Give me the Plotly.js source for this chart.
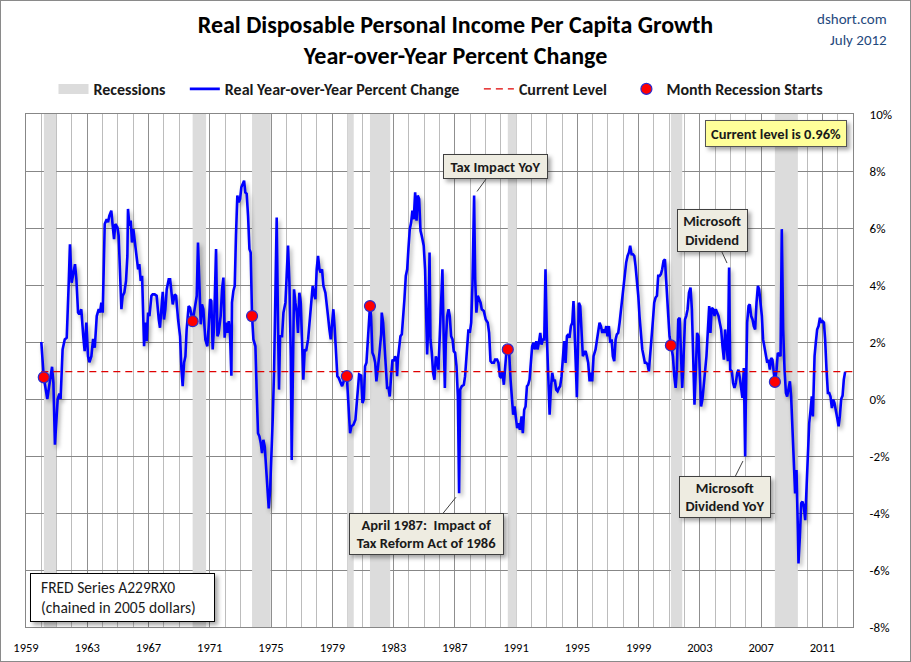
<!DOCTYPE html>
<html><head><meta charset="utf-8">
<script src="https://cdn.plot.ly/plotly-3.0.1.min.js"></script>
<style>
body{margin:0;background:#fff}
#wrap{position:relative;width:911px;height:662px}
#chart{width:911px;height:662px}
#frame{position:absolute;left:0;top:0;width:909px;height:660px;border:1px solid #8a8a8a;pointer-events:none}
#chart .scatterlayer .trace:nth-of-type(3) .js-line{filter:drop-shadow(2px 3px 2px rgba(0,0,0,0.35))}
#chart .annotation .bg{filter:drop-shadow(3px 3px 2px rgba(0,0,0,0.35))}
</style></head>
<body>
<div id="wrap"><div id="chart"></div><div id="frame"></div></div>
<script>
// ---- data ----
const dates = [
1960.00,1960.10,1960.16,1960.39,1960.52,1960.70,1960.79,1960.89,1961.07,1961.18,
1961.26,1961.39,1961.53,1961.66,1961.79,1961.87,1961.98,1962.09,1962.20,1962.29,
1962.40,1962.48,1962.61,1962.74,1962.83,1962.94,1963.05,1963.14,1963.27,1963.38,
1963.49,1963.62,1963.75,1963.83,1963.92,1964.01,1964.14,1964.27,1964.36,1964.44,
1964.57,1964.66,1964.75,1964.83,1964.97,1965.05,1965.14,1965.23,1965.31,1965.42,
1965.53,1965.62,1965.66,1965.75,1965.84,1965.92,1966.01,1966.10,1966.23,1966.32,
1966.40,1966.49,1966.58,1966.66,1966.71,1966.79,1966.88,1966.97,1967.06,1967.19,
1967.27,1967.40,1967.53,1967.67,1967.75,1967.84,1967.93,1968.01,1968.10,1968.19,
1968.32,1968.41,1968.49,1968.58,1968.71,1968.80,1968.93,1969.06,1969.15,1969.23,
1969.32,1969.41,1969.49,1969.62,1969.71,1969.88,1970.01,1970.15,1970.23,1970.32,
1970.41,1970.49,1970.58,1970.71,1970.84,1970.93,1971.02,1971.10,1971.19,1971.28,
1971.41,1971.50,1971.58,1971.71,1971.80,1971.89,1971.97,1972.06,1972.15,1972.24,
1972.32,1972.41,1972.45,1972.54,1972.63,1972.71,1972.80,1972.89,1972.98,1973.06,
1973.15,1973.24,1973.32,1973.41,1973.50,1973.59,1973.67,1973.76,1973.85,1973.98,
1974.06,1974.15,1974.24,1974.33,1974.41,1974.50,1974.59,1974.67,1974.76,1974.85,
1974.94,1975.02,1975.11,1975.20,1975.28,1975.37,1975.46,1975.52,1975.59,1975.72,
1975.81,1975.94,1976.02,1976.11,1976.20,1976.29,1976.35,1976.42,1976.50,1976.59,
1976.68,1976.76,1976.85,1976.94,1977.03,1977.11,1977.20,1977.29,1977.42,1977.50,
1977.59,1977.72,1977.81,1977.90,1977.98,1978.07,1978.16,1978.24,1978.33,1978.42,
1978.55,1978.64,1978.72,1978.81,1978.90,1978.99,1979.07,1979.16,1979.25,1979.33,
1979.42,1979.51,1979.64,1979.73,1979.81,1979.95,1980.07,1980.16,1980.25,1980.38,
1980.51,1980.60,1980.75,1980.88,1980.97,1981.06,1981.14,1981.23,1981.32,1981.46,
1981.53,1981.62,1981.71,1981.80,1981.88,1981.97,1982.06,1982.19,1982.23,1982.32,
1982.41,1982.49,1982.58,1982.67,1982.75,1982.84,1982.93,1983.02,1983.10,1983.19,
1983.23,1983.28,1983.36,1983.45,1983.54,1983.63,1983.71,1983.80,1983.89,1983.97,
1984.06,1984.15,1984.23,1984.32,1984.41,1984.50,1984.58,1984.67,1984.76,1984.84,
1984.97,1985.06,1985.15,1985.19,1985.28,1985.35,1985.41,1985.50,1985.58,1985.67,
1985.76,1985.85,1985.93,1986.02,1986.11,1986.19,1986.28,1986.35,1986.41,1986.50,
1986.59,1986.67,1986.76,1986.85,1986.93,1987.02,1987.11,1987.20,1987.28,1987.35,
1987.46,1987.59,1987.67,1987.76,1987.89,1987.98,1988.07,1988.15,1988.26,1988.33,
1988.41,1988.50,1988.59,1988.68,1988.76,1988.89,1989.02,1989.15,1989.24,1989.33,
1989.42,1989.55,1989.63,1989.76,1989.85,1989.94,1990.03,1990.11,1990.20,1990.29,
1990.38,1990.46,1990.55,1990.64,1990.72,1990.81,1990.90,1990.98,1991.07,1991.16,
1991.25,1991.36,1991.44,1991.53,1991.62,1991.71,1991.79,1991.88,1991.97,1992.05,
1992.14,1992.23,1992.32,1992.40,1992.49,1992.58,1992.66,1992.75,1992.84,1992.92,
1993.01,1993.10,1993.19,1993.27,1993.36,1993.45,1993.53,1993.62,1993.71,1993.80,
1993.88,1993.97,1994.06,1994.14,1994.23,1994.32,1994.41,1994.49,1994.58,1994.67,
1994.75,1994.84,1994.91,1994.97,1995.04,1995.10,1995.19,1995.28,1995.36,1995.45,
1995.54,1995.62,1995.71,1995.80,1995.89,1995.97,1996.06,1996.19,1996.28,1996.36,
1996.45,1996.54,1996.63,1996.71,1996.80,1996.89,1996.97,1997.06,1997.15,1997.24,
1997.32,1997.41,1997.50,1997.58,1997.67,1997.76,1997.85,1997.93,1998.02,1998.11,
1998.19,1998.28,1998.37,1998.45,1998.54,1998.63,1998.72,1998.80,1998.89,1998.98,
1999.06,1999.15,1999.24,1999.33,1999.41,1999.50,1999.59,1999.67,1999.76,1999.85,
1999.94,2000.02,2000.11,2000.20,2000.28,2000.37,2000.46,2000.54,2000.63,2000.72,
2000.76,2000.85,2000.94,2001.02,2001.11,2001.24,2001.33,2001.42,2001.50,2001.59,
2001.68,2001.77,2001.85,2001.94,2002.03,2002.11,2002.20,2002.29,2002.39,2002.48,
2002.56,2002.65,2002.74,2002.82,2002.91,2003.00,2003.08,2003.17,2003.26,2003.35,
2003.43,2003.52,2003.61,2003.69,2003.78,2003.87,2003.96,2004.04,2004.13,2004.22,
2004.30,2004.39,2004.48,2004.57,2004.65,2004.74,2004.83,2004.91,2004.98,2005.09,
2005.17,2005.26,2005.35,2005.44,2005.52,2005.61,2005.70,2005.78,2005.87,2005.92,
2005.96,2006.00,2006.09,2006.18,2006.26,2006.35,2006.44,2006.52,2006.61,2006.70,
2006.79,2006.87,2006.96,2007.05,2007.13,2007.22,2007.31,2007.40,2007.48,2007.57,
2007.66,2007.74,2007.83,2007.90,2008.01,2008.09,2008.18,2008.27,2008.35,2008.44,
2008.53,2008.62,2008.70,2008.79,2008.88,2008.96,2009.05,2009.14,2009.22,2009.31,
2009.40,2009.44,2009.53,2009.62,2009.70,2009.79,2009.88,2009.97,2010.05,2010.14,
2010.23,2010.31,2010.38,2010.44,2010.49,2010.57,2010.66,2010.75,2010.84,2010.92,
2011.01,2011.10,2011.18,2011.27,2011.36,2011.45,2011.53,2011.62,2011.71,2011.79,
2011.88,2011.97,2012.06,2012.14,2012.23,2012.32,2012.40,2012.49
];
const yoy = [
2.00,1.10,0.76,0.00,0.56,1.13,0.56,-1.60,0.00,0.19,
0.00,1.74,2.09,2.15,4.08,5.43,4.08,4.44,4.73,4.20,
3.03,2.97,3.15,2.20,1.68,2.68,1.50,1.29,1.50,2.11,
1.80,2.91,3.15,3.03,3.38,3.03,6.14,6.31,6.20,6.43,
6.61,6.08,5.61,6.14,6.02,5.73,4.32,3.15,3.62,3.73,
4.14,5.02,6.67,6.08,6.26,5.49,5.96,5.49,5.02,4.55,
4.73,4.14,4.32,2.91,1.85,2.68,2.03,3.03,2.91,3.62,
3.67,3.67,3.62,2.79,2.50,3.15,3.76,2.79,3.15,3.85,
4.20,4.20,3.67,3.32,3.67,3.62,2.79,2.20,1.03,0.45,
1.27,1.50,2.44,3.26,3.20,2.73,3.15,3.62,5.49,3.62,
2.62,3.32,3.15,2.09,1.85,2.56,3.50,3.44,1.74,2.56,
5.26,2.20,2.32,2.91,3.85,4.26,2.15,2.68,2.32,2.73,
2.32,0.82,3.38,3.79,3.97,5.73,7.14,6.90,7.02,7.43,
7.55,7.66,7.25,7.20,6.43,5.26,5.14,2.91,2.09,1.85,
0.33,-1.20,-1.31,-1.55,-1.90,-1.43,-1.67,-2.25,-2.96,-3.84,
-3.19,-2.25,-0.73,1.03,3.38,6.37,2.44,0.33,2.20,2.20,
3.03,3.38,4.32,5.38,4.08,1.50,-2.14,1.03,3.85,3.38,
3.03,2.32,3.73,3.38,1.74,0.68,1.74,1.68,2.09,2.68,
3.03,3.97,3.67,3.50,4.55,5.02,4.55,4.44,4.55,3.97,
3.73,3.38,2.91,2.44,2.09,2.68,3.15,2.44,1.27,0.80,
0.74,0.62,0.45,0.59,0.86,0.80,-0.14,-1.20,-0.96,-0.90,
-0.73,0.00,0.86,0.82,-0.14,0.00,1.15,1.27,1.97,3.26,
2.91,1.62,1.50,1.27,0.62,1.03,1.50,2.27,3.03,2.68,
1.74,1.03,0.39,0.39,0.09,0.80,1.38,1.33,1.50,1.38,
0.80,1.38,1.74,2.20,2.27,2.79,3.50,4.32,4.55,5.26,
5.96,6.20,6.61,6.31,7.25,6.26,7.14,7.02,5.90,5.73,
5.38,4.55,2.79,1.56,2.79,5.14,2.09,1.62,0.92,0.68,
1.50,1.33,1.03,2.20,3.62,4.55,1.97,0.39,1.97,2.91,
3.15,2.91,2.20,2.09,1.68,1.62,1.15,0.09,-3.31,0.33,
0.45,0.50,0.80,1.50,2.44,2.32,2.68,3.97,7.14,4.20,
3.03,3.62,3.50,3.38,3.15,3.09,2.79,2.68,2.32,1.33,
1.27,1.27,1.38,1.38,1.27,0.80,0.74,0.97,0.50,1.27,
1.74,1.74,1.62,0.68,0.09,-0.55,-0.26,-0.61,-1.02,-0.85,
-1.08,-0.61,-1.20,-0.38,-0.26,0.45,0.50,0.68,1.38,1.85,
1.97,1.74,2.03,1.74,1.97,2.32,1.91,2.09,2.09,4.55,
2.20,0.56,-0.55,0.33,0.92,0.62,0.68,0.33,0.27,0.39,
0.45,0.80,1.33,2.03,1.27,2.20,2.27,2.15,2.56,2.68,
3.44,2.32,1.03,0.06,2.79,3.38,3.26,2.20,1.50,1.62,
1.68,1.50,1.27,0.62,0.92,0.62,1.50,1.74,2.03,2.32,
2.68,2.56,2.32,2.44,2.32,2.56,2.20,2.56,1.97,2.09,
1.50,1.33,2.09,2.27,2.32,2.68,3.15,3.62,4.08,4.55,
4.79,5.02,5.14,5.38,5.08,5.08,5.02,4.67,4.20,3.62,
2.91,2.32,1.74,1.50,1.27,1.27,1.21,0.97,1.50,2.20,
2.79,3.38,3.56,3.62,4.32,4.32,4.38,4.55,4.85,4.90,
4.44,3.62,2.91,2.20,1.88,1.50,0.80,0.39,1.03,2.79,
2.85,1.50,0.39,1.50,2.79,2.91,3.15,3.73,3.91,3.15,
1.03,-0.20,1.03,2.32,2.20,1.03,-0.26,0.00,0.68,1.03,
1.50,2.44,3.26,2.32,3.20,3.15,2.91,3.15,3.03,2.91,
2.68,2.44,1.85,1.38,2.44,1.97,1.33,4.61,1.03,0.97,
0.56,0.39,0.56,0.92,1.03,0.74,0.33,0.04,1.09,-0.14,
-2.02,-0.14,2.68,3.26,3.32,2.91,2.79,2.56,2.44,3.38,
3.97,3.85,3.38,2.91,2.09,1.85,1.56,1.27,1.38,1.03,
1.44,1.38,0.92,0.60,1.03,1.62,1.56,1.50,5.96,2.44,
1.03,0.21,0.09,0.33,0.62,0.09,-0.85,-2.25,-3.31,-2.49,
-4.60,-5.77,-4.84,-3.66,-3.60,-3.78,-4.25,-3.08,-1.90,-0.85,
-0.38,0.09,-0.61,0.56,1.50,1.97,2.44,2.56,2.85,2.68,
2.73,2.68,2.09,1.03,0.21,0.21,0.09,-0.32,-0.02,-0.14,
-0.49,-0.67,-0.96,-0.61,0.00,0.12,0.68,0.96
];
const recStart = [1960.17, 1969.88, 1973.76, 1979.98, 1981.46, 1990.46, 2001.11, 2007.90];
const recEnd   = [1960.97, 1970.76, 1974.98, 1980.40, 1982.78, 1991.05, 2001.85, 2009.40];
const recDotDates  = [1960.16, 1969.88, 1973.76, 1979.95, 1981.46, 1990.46, 2001.11, 2007.90];
const recDotValues = [0.76, 2.73, 2.91, 0.80, 3.26, 1.74, 1.88, 0.60];
const xTickVals = [1959,1963,1967,1971,1975,1979,1983,1987,1991,1995,1999,2003,2007,2011];
const yTickVals = [-8,-6,-4,-2,0,2,4,6,8,10];
const xRange = [1959, 2013];

// ---- helpers ----
const FONT = "Carlito, 'Liberation Sans Narrow', 'Arial Narrow', 'DejaVu Sans Condensed', sans-serif";
const L = 26, R = 853, T = 114, B = 627;
const pxX = x => (x - L) / (R - L);
const pxY = y => (B - y) / (B - T);
function extreme(from, to, kind) {
  let best = -1;
  for (let i = 0; i < dates.length; i++) {
    if (dates[i] < from || dates[i] > to) continue;
    if (best < 0 || (kind === 'max' ? yoy[i] > yoy[best] : yoy[i] < yoy[best])) best = i;
  }
  return best;
}
const current = yoy[yoy.length - 1];
const yLo = yTickVals[0], yHi = yTickVals[yTickVals.length - 1];

const rx = [], ry = [];
recStart.forEach((s, i) => {
  rx.push(s, s, recEnd[i], recEnd[i], s, null);
  ry.push(yLo, yHi, yHi, yLo, yLo, null);
});

const traces = [
  {x: rx, y: ry, type: 'scatter', mode: 'lines', fill: 'toself', fillcolor: '#dcdcdc',
   line: {width: 0, color: '#dcdcdc'}, name: 'Recessions', showlegend: false, hoverinfo: 'skip'},
  {x: [null], y: [null], type: 'scatter', mode: 'lines', line: {width: 12, color: '#dcdcdc'},
   name: 'Recessions&nbsp;&nbsp;&nbsp;&nbsp;'},
  {x: dates, y: yoy, type: 'scatter', mode: 'lines', line: {color: '#0000ff', width: 2.6},
   name: 'Real Year-over-Year Percent Change&nbsp;&nbsp;&nbsp;&nbsp;'},
  {x: [dates[0], xRange[1]], y: [current, current], type: 'scatter', mode: 'lines',
   line: {color: '#e00000', width: 1.3, dash: '7px,5px'}, name: 'Current Level&nbsp;&nbsp;&nbsp;&nbsp;'},
  {x: recDotDates, y: recDotValues, type: 'scatter', mode: 'markers',
   marker: {color: '#ff0000', size: 11, line: {color: '#2b2bd0', width: 1.2}},
   name: 'Month Recession Starts'}
];

const calloutFont = {family: FONT, size: 14.5, color: '#1a1a1a', weight: 'bold'};
const iTax = extreme(1986, 1990, 'max');
const iApr = extreme(1986, 1990, 'min');
const iMsD = extreme(2004, 2005.5, 'max');
const iMsY = extreme(2005, 2007, 'min');

function callout(i, text, ax, ay, w, h) {
  return {x: dates[i], y: yoy[i], xref: 'x', yref: 'y', text: text, showarrow: true,
    arrowhead: 0, arrowwidth: 1, arrowcolor: '#404040', standoff: 5, ax: ax, ay: ay,
    bgcolor: '#eeece1', bordercolor: '#404040', borderwidth: 1, borderpad: 3,
    width: w, height: h, font: calloutFont, align: 'center'};
}

const annotations = [
  {xref: 'paper', yref: 'paper', x: pxX(889), y: pxY(19), xanchor: 'right', yanchor: 'middle',
   text: 'dshort.com', showarrow: false, font: {family: FONT, size: 15, color: '#1f497d'}},
  {xref: 'paper', yref: 'paper', x: pxX(889), y: pxY(40), xanchor: 'right', yanchor: 'middle',
   text: 'July 2012', showarrow: false, font: {family: FONT, size: 15, color: '#1f497d'}},
  {xref: 'paper', yref: 'paper', x: pxX(776), y: pxY(133.5), xanchor: 'center', yanchor: 'middle',
   text: 'Current level is ' + current.toFixed(2) + '%', showarrow: false,
   bgcolor: '#ffff99', bordercolor: '#555555', borderwidth: 1, borderpad: 3, width: 134, height: 19,
   font: calloutFont},
  {xref: 'paper', yref: 'paper', x: pxX(122.5), y: pxY(597.5), xanchor: 'center', yanchor: 'middle',
   text: '&nbsp;&nbsp;FRED Series A229RX0<br>&nbsp;&nbsp;(chained in 2005 dollars)', showarrow: false, align: 'left',
   bgcolor: '#ffffff', bordercolor: '#000000', borderwidth: 1, borderpad: 3, width: 177, height: 41,
   font: {family: FONT, size: 15.5, color: '#1a1a1a'}},
  callout(iTax, 'Tax Impact YoY', 21, -29, 97, 17),
  callout(iApr, 'April 1987:  Impact of<br>Tax Reform Act of 1986', -33, 41, 147, 34),
  callout(iMsD, 'Microsoft<br>Dividend', -17, -37, 63, 35),
  callout(iMsY, 'Microsoft<br>Dividend YoY', -20, 40, 84, 34)
];

const layout = {
  width: 911, height: 662,
  margin: {l: L, r: 911 - R, t: T, b: 662 - B, pad: 0},
  paper_bgcolor: '#ffffff', plot_bgcolor: '#ffffff',
  font: {family: FONT, size: 13, color: '#000'},
  title: {text: 'Real Disposable Personal Income Per Capita Growth<br>Year-over-Year Percent Change',
    font: {family: FONT, size: 24, color: '#000', weight: 'bold'},
    x: 0.5, xref: 'container', xanchor: 'center', y: 1 - 33 / 662, yref: 'container', yanchor: 'middle'},
  showlegend: true,
  legend: {orientation: 'h', x: pxX(441), xanchor: 'center', y: pxY(89), yanchor: 'middle',
    itemwidth: 30, traceorder: 'normal',
    font: {family: FONT, size: 16, color: '#1a1a1a', weight: 'bold'}, bgcolor: 'rgba(0,0,0,0)'},
  xaxis: {range: xRange, tickmode: 'array', tickvals: xTickVals, ticktext: xTickVals.map(String),
    showgrid: true, gridcolor: '#8f8f8f', gridwidth: 1,
    minor: {dtick: 1, tick0: 1959, showgrid: true, gridcolor: '#bcbcbc', gridwidth: 1, ticks: ''},
    ticks: '', ticklabelstandoff: 9, tickfont: {family: FONT, size: 12.5, color: '#000'},
    showline: true, mirror: true, linecolor: '#878787', linewidth: 1, zeroline: false, fixedrange: true},
  yaxis: {range: [yLo, yHi], side: 'right', tickmode: 'array',
    tickvals: yTickVals, ticktext: yTickVals.map(v => v + '%'),
    showgrid: true, gridcolor: '#878787', gridwidth: 1, ticks: '', ticklabelstandoff: 13,
    tickfont: {family: FONT, size: 13, color: '#000'},
    showline: true, mirror: true, linecolor: '#878787', linewidth: 1, zeroline: false, fixedrange: true},
  annotations: annotations,
  hovermode: false
};

Plotly.newPlot('chart', traces, layout, {displayModeBar: false, staticPlot: true});
</script>
</body></html>
